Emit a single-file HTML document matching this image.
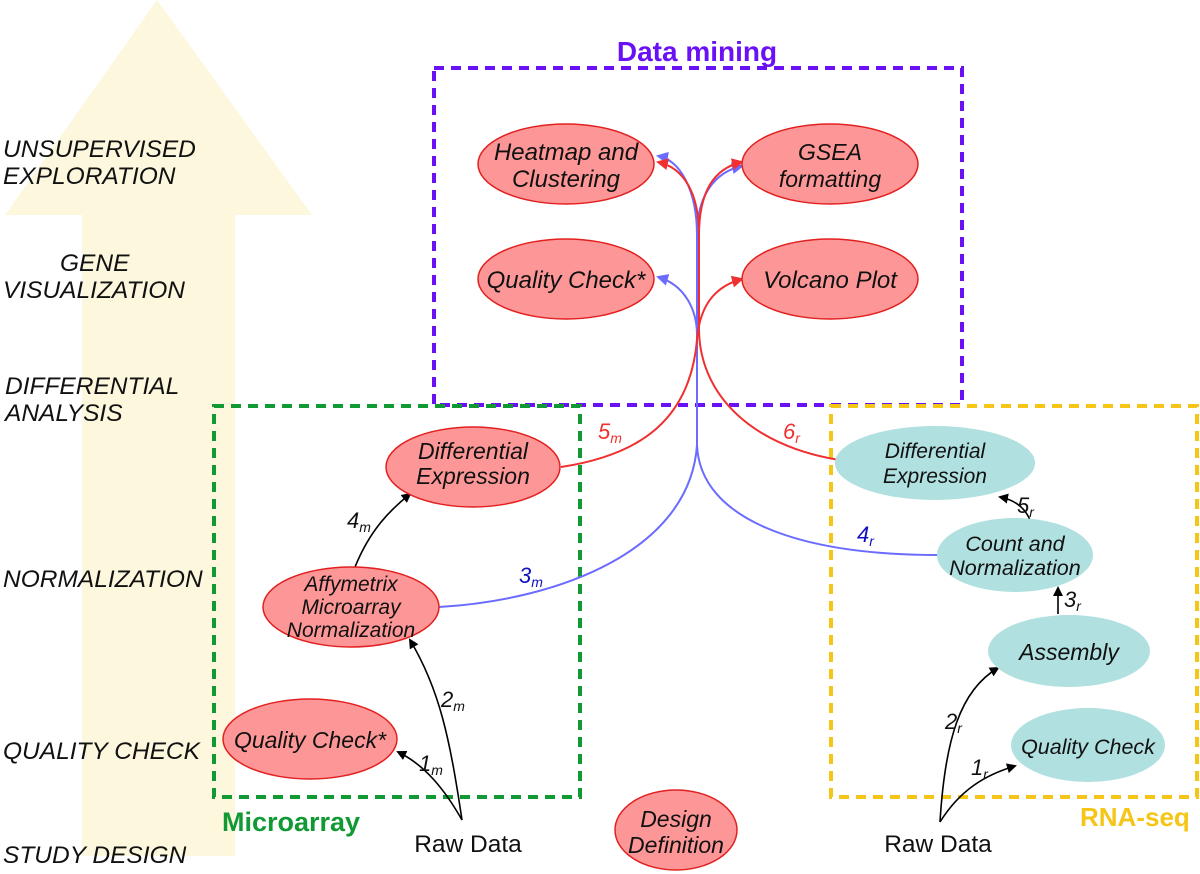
<!DOCTYPE html>
<html><head><meta charset="utf-8"><style>
body{margin:0;background:#fff}
svg{display:block;font-family:"Liberation Sans",sans-serif}
.l{font-style:italic;font-size:24.5px;fill:#111}
.n{font-style:italic;font-size:23px;fill:#111;text-anchor:middle}
.s{font-style:italic;font-size:22px}
.sub{font-size:14px}
</style></head><body>
<svg width="1200" height="874" viewBox="0 0 1200 874">
<defs>
<marker id="ak" markerWidth="10" markerHeight="10" refX="8" refY="5" orient="auto" markerUnits="userSpaceOnUse"><path d="M0,0 L10,5 L0,10 z" fill="#000"/></marker>
<marker id="ab" markerWidth="12" markerHeight="12" refX="10" refY="6" orient="auto" markerUnits="userSpaceOnUse"><path d="M0,0 L12,6 L0,12 z" fill="#6b6bff"/></marker>
<marker id="ar" markerWidth="12" markerHeight="12" refX="10" refY="6" orient="auto" markerUnits="userSpaceOnUse"><path d="M0,0 L12,6 L0,12 z" fill="#f03030"/></marker>
</defs>
<polygon points="157,0 312,215 235,215 235,856 82,856 82,215 5,215" fill="#fdf7de"/>
<g class="l">
<text x="3" y="157">UNSUPERVISED</text><text x="3" y="184">EXPLORATION</text>
<text x="60" y="271">GENE</text><text x="3" y="298">VISUALIZATION</text>
<text x="5" y="394">DIFFERENTIAL</text><text x="5" y="421">ANALYSIS</text>
<text x="3" y="587">NORMALIZATION</text>
<text x="3" y="759">QUALITY CHECK</text>
<text x="3" y="863">STUDY DESIGN</text>
</g>
<rect x="434" y="68" width="528" height="337" fill="none" stroke="#6a10f5" stroke-width="4" stroke-dasharray="10,7"/>
<rect x="214" y="406" width="366" height="391" fill="none" stroke="#119933" stroke-width="4" stroke-dasharray="10,7"/>
<rect x="831" y="406" width="366" height="391" fill="none" stroke="#f5c518" stroke-width="4" stroke-dasharray="10,7"/>
<text x="697" y="61" text-anchor="middle" font-weight="bold" font-size="28" fill="#6a10f5">Data mining</text>
<text x="222" y="831" font-weight="bold" font-size="27" fill="#119933">Microarray</text>
<text x="1080" y="826" font-weight="bold" font-size="26" fill="#f5c518">RNA-seq</text>
<g fill="none" stroke-width="2">
<path d="M439,607 C560,600 690,550 697,445 L697,235" stroke="#6b6bff"/>
<path d="M938,555 C800,555 700,520 697,445" stroke="#6b6bff"/>
<path d="M697,235 C697,190 680,160 658,156" stroke="#6b6bff" marker-end="url(#ab)"/>
<path d="M697,235 C697,195 715,172 742,166" stroke="#6b6bff" marker-end="url(#ab)"/>
<path d="M697,335 C697,310 685,285 658,277" stroke="#6b6bff" marker-end="url(#ab)"/>
<path d="M561,467 C640,455 690,420 697,340 C700,300 720,285 742,279" stroke="#f03030" marker-end="url(#ar)"/>
<path d="M865,463 C760,455 700,400 699,330 L699,235" stroke="#f03030"/>
<path d="M699,235 C699,195 685,168 658,162" stroke="#f03030" marker-end="url(#ar)"/>
<path d="M699,235 C699,190 715,168 742,162" stroke="#f03030" marker-end="url(#ar)"/>
<g stroke="#000" stroke-width="1.6">
<path d="M462,820 C445,790 425,765 398,752" marker-end="url(#ak)"/>
<path d="M462,820 C450,740 440,690 410,640" marker-end="url(#ak)"/>
<path d="M355,567 C370,530 390,510 410,494" marker-end="url(#ak)"/>
<path d="M940,822 C960,790 985,775 1015,766" marker-end="url(#ak)"/>
<path d="M940,822 C945,740 960,690 998,668" marker-end="url(#ak)"/>
<path d="M1058,614 C1058,600 1058,595 1058,588" marker-end="url(#ak)"/>
<path d="M1030,520 C1025,508 1015,500 1000,497" marker-end="url(#ak)"/>
</g>
</g>
<g fill="#fd9797" stroke="#e32020" stroke-width="1.5">
<ellipse cx="566" cy="164" rx="88" ry="40"/>
<ellipse cx="830" cy="164" rx="88" ry="40"/>
<ellipse cx="566" cy="279" rx="88" ry="40"/>
<ellipse cx="830" cy="279" rx="88" ry="40"/>
<ellipse cx="473" cy="467" rx="87" ry="40"/>
<ellipse cx="351" cy="607" rx="88" ry="40"/>
<ellipse cx="310" cy="739" rx="87" ry="40"/>
<ellipse cx="676" cy="830" rx="61" ry="40"/>
</g>
<g fill="#b0e0df">
<ellipse cx="935" cy="463" rx="100" ry="37"/>
<ellipse cx="1015" cy="555" rx="78" ry="37"/>
<ellipse cx="1069" cy="651" rx="81" ry="36"/>
<ellipse cx="1088" cy="745" rx="77" ry="37"/>
</g>
<g class="n">
<text x="566" y="160" font-size="24">Heatmap and</text><text x="566" y="187" font-size="24">Clustering</text>
<text x="830" y="160" font-size="23">GSEA</text><text x="830" y="187" font-size="23">formatting</text>
<text x="566" y="288" font-size="24">Quality Check*</text>
<text x="830" y="288" font-size="24">Volcano Plot</text>
<text x="473" y="459">Differential</text><text x="473" y="484">Expression</text>
<text x="351" y="591" font-size="21">Affymetrix</text><text x="351" y="614" font-size="21">Microarray</text><text x="351" y="637" font-size="21">Normalization</text>
<text x="310" y="748">Quality Check*</text>
<text x="676" y="827">Design</text><text x="676" y="853">Definition</text>
<text x="935" y="458" font-size="21">Differential</text><text x="935" y="483" font-size="21">Expression</text>
<text x="1015" y="551" font-size="21.5">Count and</text><text x="1015" y="575" font-size="21.5">Normalization</text>
<text x="1069" y="660">Assembly</text>
<text x="1088" y="754" font-size="21.5">Quality Check</text>
</g>
<text x="468" y="852" text-anchor="middle" font-size="24.5" fill="#111">Raw Data</text>
<text x="938" y="852" text-anchor="middle" font-size="24.5" fill="#111">Raw Data</text>
<g class="s">
<text x="347" y="528" fill="#111">4<tspan class="sub" dy="4">m</tspan></text>
<text x="519" y="583" fill="#1010c0">3<tspan class="sub" dy="4">m</tspan></text>
<text x="441" y="707" fill="#111">2<tspan class="sub" dy="4">m</tspan></text>
<text x="419" y="771" fill="#111">1<tspan class="sub" dy="4">m</tspan></text>
<text x="598" y="439" fill="#f03030">5<tspan class="sub" dy="4">m</tspan></text>
<text x="783" y="439" fill="#f03030">6<tspan class="sub" dy="4">r</tspan></text>
<text x="857" y="542" fill="#1010c0">4<tspan class="sub" dy="4">r</tspan></text>
<text x="1017" y="513" fill="#111">5<tspan class="sub" dy="4">r</tspan></text>
<text x="1064" y="607" fill="#111">3<tspan class="sub" dy="4">r</tspan></text>
<text x="945" y="729" fill="#111">2<tspan class="sub" dy="4">r</tspan></text>
<text x="971" y="775" fill="#111">1<tspan class="sub" dy="4">r</tspan></text>
</g>
</svg>
</body></html>
